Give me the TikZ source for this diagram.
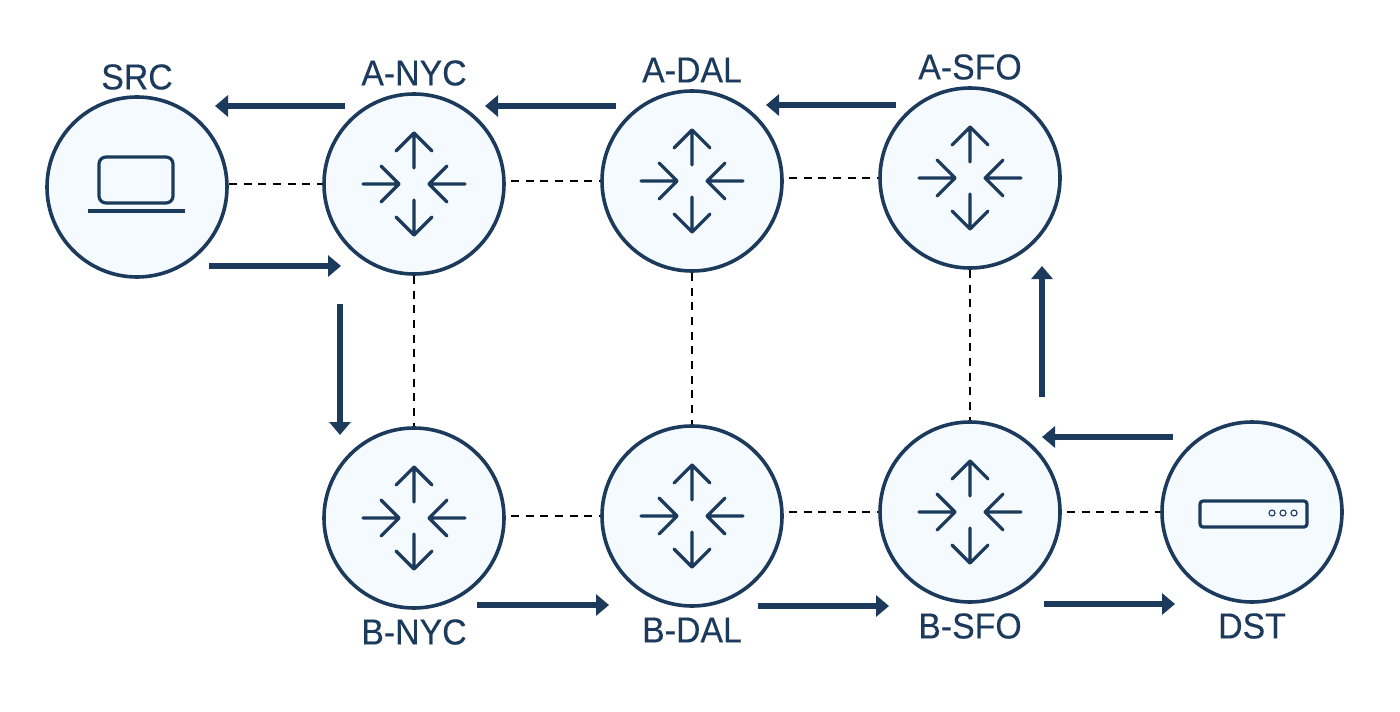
\documentclass[tikz,border=0pt]{standalone}
\usepackage{fontspec}
\setmainfont[FakeStretch=0.94,FakeBold=0.25]{Liberation Sans}
\usetikzlibrary{arrows.meta}
\definecolor{navy}{HTML}{1B3A5C}
\definecolor{pale}{HTML}{F4FAFD}
\tikzset{
  site/.style={circle,draw=navy,fill=pale,line width=1.8pt,minimum size=90pt,inner sep=0pt},
  lab/.style={text=navy,font=\fontsize{18}{20}\selectfont,inner sep=0pt,anchor=center},
  link/.style={dash pattern=on 4pt off 3.35pt,line width=0.7pt,black},
  hlink/.style={link,dash phase=4.85pt},
  flow/.style={navy,line width=2.8pt,-{Triangle[length=6.5pt,width=10.5pt]}},
  glyph/.style={navy,line width=1.6pt,line cap=round,line join=round},
  router/.pic={
    \draw[glyph] (0,-16)--(0,-51) (-18,-33)--(0,-51)--(18,-33);
    \draw[glyph] (0,16)--(0,51) (-18,33)--(0,51)--(18,33);
    \draw[glyph] (-51,0)--(-15,0) (-33,-18)--(-15,0)--(-33,18);
    \draw[glyph] (51,0)--(15,0) (33,-18)--(15,0)--(33,18);
  },
  laptop/.pic={
    \draw[glyph,rounded corners=3.5pt] (-38,-30) rectangle (36,16);
    \draw[glyph,line cap=butt] (-49,24)--(48,24);
  },
  server/.pic={
    \draw[glyph,rounded corners=1.5pt] (-52,-11) rectangle (55,15);
    \foreach \dx in {20,31,42} \draw[navy,line width=0.55pt] (\dx,1) circle (3);
  }
}
\begin{document}
\begin{tikzpicture}[x=0.5pt,y=-0.5pt]
\useasboundingbox[fill=white] (0,0) rectangle (1400,711);
% sites
\node[site] (SRC) at (137,187) {};
\node[site] (ANYC) at (414,184) {};
\node[site] (ADAL) at (692,181) {};
\node[site] (ASFO) at (970,178) {};
\node[site] (BNYC) at (414,518) {};
\node[site] (BDAL) at (692,516) {};
\node[site] (BSFO) at (970,512) {};
\node[site] (DST) at (1252,512) {};
% icons
\pic at (SRC) {laptop};
\pic at (DST) {server};
\foreach \n in {ANYC,ADAL,ASFO,BNYC,BDAL,BSFO} \pic at (\n) {router};
% labels
\node[lab] (lSRC) at (137,77) {SRC};
\node[lab] (lANYC) at (414,73) {A-NYC};
\node[lab] (lADAL) at (692,70) {A-DAL};
\node[lab] (lASFO) at (970,67) {A-SFO};
\node[lab] (lBNYC) at (414,632) {B-NYC};
\node[lab] (lBDAL) at (692,630) {B-DAL};
\node[lab] (lBSFO) at (970,626) {B-SFO};
\node[lab] (lDST) at (1252,626) {DST};
% dashed links
\draw[link] (ANYC.west -| SRC.east) -- (ANYC.west);
\draw[hlink] (ADAL.west -| ANYC.east) -- (ADAL.west);
\draw[hlink] (ASFO.west -| ADAL.east) -- (ASFO.west);
\draw[hlink] (BDAL.west -| BNYC.east) -- (BDAL.west);
\draw[hlink] (BSFO.west -| BDAL.east) -- (BSFO.west);
\draw[hlink] (DST.west -| BSFO.east) -- (DST.west);
\draw[link] (ANYC.south) -- (BNYC.north);
\draw[link] (ADAL.south) -- (BDAL.north);
\draw[link] (ASFO.south) -- (BSFO.north);
% flow arrows
\coordinate (f1a) at (345,106); \coordinate (f1b) at (215,106);
\coordinate (f2a) at (616,106); \coordinate (f2b) at (485,106);
\coordinate (f3a) at (896,105); \coordinate (f3b) at (766,105);
\coordinate (f4a) at (209,266); \coordinate (f4b) at (341,266);
\coordinate (f5a) at (340,304); \coordinate (f5b) at (340,435);
\coordinate (f6a) at (477,605); \coordinate (f6b) at (609,605);
\coordinate (f7a) at (758,606); \coordinate (f7b) at (889,606);
\coordinate (f8a) at (1044,604); \coordinate (f8b) at (1175,604);
\coordinate (f9a) at (1173,437); \coordinate (f9b) at (1042,437);
\coordinate (f10a) at (1042,397); \coordinate (f10b) at (1042,266);
\foreach \i in {1,...,10} \draw[flow] (f\i a) -- (f\i b);
\end{tikzpicture}
\end{document}
